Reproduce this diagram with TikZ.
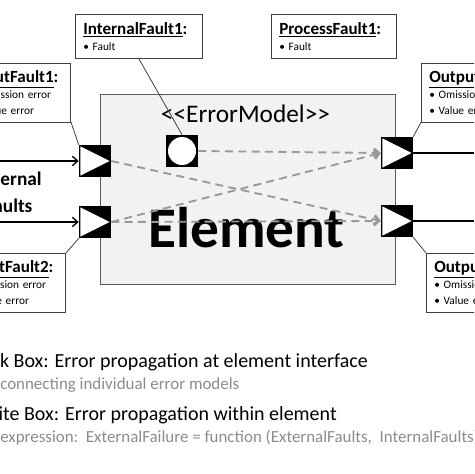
\documentclass[tikz,border=0pt]{standalone}
\usepackage{fontspec}
\setmainfont{Carlito}
\usetikzlibrary{arrows.meta}
\definecolor{boxline}{HTML}{404040}
\definecolor{flowgray}{HTML}{999999}
\definecolor{notegray}{HTML}{8C8C8C}
\definecolor{elemfill}{HTML}{F2F2F2}

\begin{document}
\begin{tikzpicture}[x=0.75pt, y=-0.75pt,
    port/.style={fill=black, minimum size=24pt, inner sep=0pt,
        path picture={\fill[white] ([shift={(1pt,-1pt)}]path picture bounding box.north west)
            -- ([xshift=-1pt]path picture bounding box.east)
            -- ([shift={(1pt,1pt)}]path picture bounding box.south west) -- cycle;}},
    faultport/.style={fill=black, minimum size=24pt, inner sep=0pt,
        path picture={\fill[white] (path picture bounding box.center) circle (10.5pt);}},
    callout/.style={draw=boxline, fill=white, align=left, inner xsep=6pt, inner ysep=2pt,
        font=\fontsize{8.5}{12}\selectfont},
    leader/.style={draw=boxline, line width=0.6pt},
    feed/.style={line width=1pt, -{Straight Barb[length=4pt,width=7pt]}},
    dashflow/.style={draw=flowgray, line width=1.4pt, dash pattern=on 6pt off 4pt,
        -{Straight Barb[length=4pt,width=7pt]}},
    note/.style={inner sep=0pt, font=\fontsize{15}{17}\selectfont},
    subnote/.style={inner sep=0pt, text=notegray, font=\fontsize{12.7}{14}\selectfont}]

    \newcommand{\faulttitle}[1]{{\bfseries\fontsize{12.8}{12}\selectfont\underline{#1}:}}

    \useasboundingbox (0,0) rectangle (474,474);
    \fill[white] (0,0) rectangle (474,474);
    \clip (0,0) rectangle (474,474);

    % element with its error model
    \node[draw=black!65, fill=elemfill, minimum width=221.25pt, minimum height=142.5pt, inner sep=0pt] (elem) at (247.5,189) {};
    \node[font=\fontsize{19}{22}\selectfont, inner sep=0pt] (stereo) at (245.5,114) {<\kern0pt<ErrorModel>\kern0pt>};
    \node[font=\bfseries\fontsize{43}{48}\selectfont, inner sep=0pt] (elemname) at (246.5,228) {Element};

    % ports
    \node[port] (in1) at (95,161) {};
    \node[port] (in2) at (95,222) {};
    \node[port] (out1) at (397,153) {};
    \node[port] (out2) at (397,221) {};
    \node[faultport] (cport) at (182,151) {};

    % propagation inside the element
    \draw[dashflow] (cport.east) -- (out1.west);
    \draw[dashflow] (in1.east) -- (out2.west);
    \draw[dashflow] (in2.east) -- (out1.west);
    \draw[dashflow] (in2.east) -- (out2.west);

    % external faults in, failures out
    \coordinate (src1) at (0,161);
    \coordinate (src2) at (0,222);
    \coordinate (dst1) at (474,153);
    \coordinate (dst2) at (474,221);
    \draw[feed] (src1) -- (in1.west);
    \draw[feed] (src2) -- (in2.west);
    \draw[line width=1pt] (out1.east) -- (dst1);
    \draw[line width=1pt] (out2.east) -- (dst2);
    \node[font=\bfseries\fontsize{14.5}{20.25}\selectfont, align=center, anchor=east, inner sep=0pt] (extin) at (42,192) {External\\Faults};

    % fault and failure callouts
    \node[callout, anchor=north west, text width=83.25pt, minimum height=33pt] (intbox) at (75,14)
        {\faulttitle{InternalFault1}\\• Fault};
    \node[callout, anchor=north west, text width=81.75pt, minimum height=33pt] (procbox) at (271,14)
        {\faulttitle{ProcessFault1}\\• Fault};
    \node[callout, anchor=north east, text width=68pt, minimum height=44pt] (in1box) at (71,63)
        {\faulttitle{InputFault1}\\• Omission error\\• Value error};
    \node[callout, anchor=north east, text width=68pt, minimum height=44pt] (in2box) at (66,253)
        {\faulttitle{InputFault2}\\• Omission error\\• Value error};
    \node[callout, anchor=north west, text width=70pt, minimum height=44pt] (out1box) at (421,63)
        {\faulttitle{OutputFailure1}\\• Omission error\\• Value error};
    \node[callout, anchor=north west, text width=70pt, minimum height=44pt] (out2box) at (426,253)
        {\faulttitle{OutputFailure2}\\• Omission error\\• Value error};

    \draw[leader] (intbox.south) -- (cport.north);
    \draw[leader] (in1box.south east) -- (in1.north west);
    \draw[leader] (in2box.north east) -- (in2.south west);
    \draw[leader] (out1box.south west) -- (out1.north east);
    \draw[leader] (out2box.north west) -- (out2.south east);

    % legend text
    \node[note, anchor=base east] (blackbox) at (368,367) {Black Box: Error propagation at element interface};
    \node[subnote, anchor=base west] (blacknote) at (0,389) {connecting individual error models};
    \node[note, anchor=base east] (whitebox) at (337,420) {White Box: Error propagation within element};
    \node[subnote, anchor=base west] (whitenote) at (0,442) {expression:\ \ ExternalFailure = function (ExternalFaults,\ \ InternalFaults)};
\end{tikzpicture}
\end{document}
